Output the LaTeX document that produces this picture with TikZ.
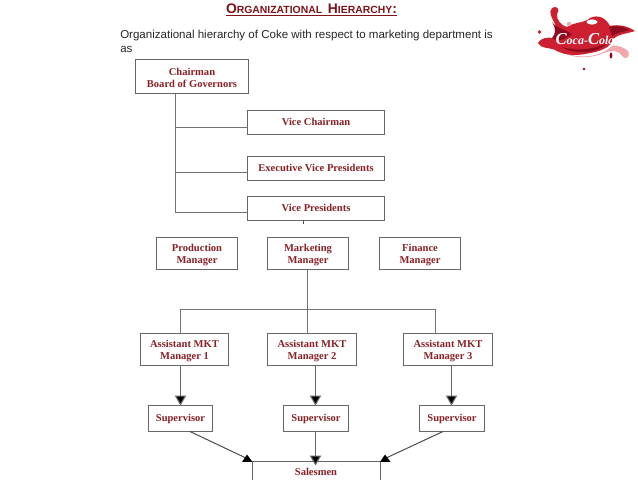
\documentclass[tikz,border=0pt]{standalone}
\usepackage{fontspec}
\setmainfont{Liberation Serif}
\newfontfamily\arial{Liberation Sans}
\usetikzlibrary{arrows.meta,calc}
\definecolor{boxred}{HTML}{8A2126}
\definecolor{titlered}{HTML}{7E1418}
\definecolor{cokered}{HTML}{CC1F30}
\definecolor{cokedark}{HTML}{8E0A1E}
\definecolor{cokepink}{HTML}{F2A9AE}
\tikzset{
  orgbox/.style={draw=black!60,line width=0.9pt,outer sep=0pt,fill=white,inner sep=0pt,align=center,text=boxred,
    font=\fontsize{7.9}{9.1}\selectfont\bfseries},
  plain/.style={draw=black!55,line width=0.9pt},
  tiparrow/.style={draw=black!60,line width=0.85pt,-{Triangle[length=7.5pt,width=8.5pt,fill=black]}},
  sidearrow/.style={draw=black!70,line width=0.75pt},
  headfill/.style={fill=black},
}
\newcommand{\obox}[6]{\node[orgbox,minimum width=#3*0.75pt,minimum height=#4*0.75pt] (#5) at (#1,#2) {#6};}
\newcommand{\up}[1]{\raisebox{1.5pt}{#1}}
\newcommand{\dn}{\rule{0pt}{7.4pt}}
\begin{document}
\begin{tikzpicture}[x=0.75pt,y=-0.75pt]
\useasboundingbox (0,0) rectangle (638,479);
\fill[white] (0,0) rectangle (638,479);
% texts
\node[anchor=base,text=titlered,font=\arial\bfseries,inner sep=0pt] (title) at (311.5,13)
  {\underline{\fontsize{10.4}{10}\selectfont O\fontsize{7.8}{10}\selectfont RGANIZATIONAL\ \ \fontsize{10.4}{10}\selectfont H\fontsize{7.8}{10}\selectfont IERARCHY\fontsize{10.4}{10}\selectfont :}};
\node[anchor=base west,inner sep=0pt,text=black!85,font=\arial\fontsize{8.65}{10}\selectfont] (intro1) at (120,38) {Organizational hierarchy of Coke with respect to marketing department is};
\node[anchor=base west,inner sep=0pt,text=black!85,font=\arial\fontsize{8.65}{10}\selectfont] (intro2) at (120,52) {as};
% boxes
\obox{192}{76.5}{113}{34}{chair}{\dn Chairman\\Board of Governors}
\obox{316}{122.5}{137}{24}{vicech}{\up{Vice Chairman}}
\obox{316}{168.5}{137}{24}{evp}{\up{Executive Vice Presidents}}
\obox{316}{208.5}{137}{24}{vp}{\up{Vice Presidents}}
\obox{197}{253.5}{81}{32}{prod}{\dn Production\\Manager}
\obox{308}{253.5}{81}{32}{mkt}{\dn Marketing\\Manager}
\obox{420}{253.5}{81}{32}{fin}{\dn Finance\\Manager}
\obox{184.5}{349.5}{88}{32}{am1}{\dn Assistant MKT\\Manager 1}
\obox{312}{349.5}{89}{32}{am2}{\dn Assistant MKT\\Manager 2}
\obox{448}{349.5}{89}{32}{am3}{\dn Assistant MKT\\Manager 3}
\obox{180.5}{418.5}{64}{26}{sup1}{\up{Supervisor}}
\obox{316}{418.5}{65}{26}{sup2}{\up{Supervisor}}
\obox{452}{418.5}{65}{26}{sup3}{\up{Supervisor}}
\node[text=boxred,font=\fontsize{7.9}{10}\selectfont\bfseries,inner sep=0pt] (sales) at (316,471.5) {Salesmen};
% open salesmen box
\coordinate (stl) at (252.5,461.5); \coordinate (str) at (380.5,461.5);
\coordinate (sbl) at (252.5,480); \coordinate (sbr) at (380.5,480);
\coordinate (stm) at (315.5,465.5);
\draw[draw=black!60,line width=0.9pt] (sbl) -- (stl) -- (str) -- (sbr);
% upper tree
\coordinate (trunk) at (175.5,212.5);
\draw[plain] (chair.south -| trunk) -- (trunk) -- (trunk -| vp.west);
\coordinate (b1) at (175.5,127.5); \coordinate (b2) at (175.5,172.5);
\draw[plain] (b1) -- (b1 -| vicech.west);
\draw[plain] (b2) -- (b2 -| evp.west);
\coordinate (tick) at (303.5,224);
\draw[draw=black!70,line width=0.6pt] (vp.south -| tick) -- (tick);
% marketing tree
\coordinate (bus) at (307.5,309.5);
\draw[plain] (mkt.south -| bus) -- (bus) -- (am2.north -| bus);
\coordinate (busl) at (180.5,309.5); \coordinate (busr) at (435.5,309.5);
\draw[plain] (am1.north -| busl) -- (busl) -- (busr) -- (am3.north -| busr);
% arrows
\coordinate (a2) at (315.5,405.5); \coordinate (a3) at (451.5,405.5);
\draw[tiparrow] (am1.south -| sup1) -- (sup1.north);
\draw[tiparrow] (am2.south -| a2) -- (a2);
\draw[tiparrow] (am3.south -| a3) -- (a3);
\coordinate (d1) at (190,431.5); \coordinate (d3) at (443,431.5);
\coordinate (e1) at (247,458.5); \coordinate (e3) at (385,458.5);
\draw[sidearrow] (d1) -- (e1);
\draw[sidearrow] (d3) -- (e3);
\fill[headfill] (242,461.9) -- (252.5,461.9) -- (247,454.5) -- cycle;
\fill[headfill] (380,461.9) -- (390.5,461.9) -- (385,454.5) -- cycle;
\draw[tiparrow] (sup2.south -| stm) -- (stm);
% logo
\begin{scope}
\fill[cokepink] (560,50) .. controls (575,60) and (600,58) .. (612,46) .. controls (618,44) and (626,49) .. (628,51)
  .. controls (631,58) and (625,60) .. (622,56) .. controls (618,50) and (612,50) .. (604,53)
  .. controls (590,59) and (570,59) .. (560,50) -- cycle;
\fill[cokered] (538,43) .. controls (540,38) and (548,37) .. (553,38)
  .. controls (558,36) and (558,30) .. (555,24) .. controls (552,18) and (548,12) .. (552,8)
  .. controls (556,5) and (561,9) .. (557,14) .. controls (556,20) and (562,26) .. (567,27)
  .. controls (574,22) and (585,23) .. (590,18) .. controls (598,14) and (606,18) .. (610,26)
  .. controls (618,24) and (628,26) .. (635,31) .. controls (626,34) and (618,34) .. (613,39)
  .. controls (611,47) and (602,51) .. (590,53) .. controls (578,56) and (565,56) .. (555,50)
  .. controls (548,47) and (541,49) .. (538,43) -- cycle;
\fill[cokedark] (552,22) .. controls (556,28) and (566,30) .. (572,34) .. controls (566,40) and (556,42) .. (552,38)
  .. controls (556,34) and (556,28) .. (552,22) -- cycle;
\fill[cokedark] (562,47) .. controls (575,51) and (590,50) .. (606,44) .. controls (600,52) and (575,56) .. (562,47) -- cycle;
\fill[cokedark] (609,27) .. controls (617,25) and (624,27) .. (630,30) .. controls (622,32) and (616,33) .. (612,36) -- cycle;
\fill[white] (592,22) ellipse (5.5 and 2.6);
\fill[cokered] (539.5,32) circle (1.8);
\fill[cokepink] (569,24) circle (2.2);
\fill[cokedark] (611,55.5) ellipse (1.4 and 3);
\fill[cokedark] (584,69) circle (1.3);
\node[text=white,inner sep=0pt,font=\fontsize{9}{10}\selectfont\bfseries\itshape] (logo) at (585,39)
  {{\fontsize{12.5}{10}\selectfont C}oca-{\fontsize{12.5}{10}\selectfont C}ola};
\end{scope}
\end{tikzpicture}
\end{document}
